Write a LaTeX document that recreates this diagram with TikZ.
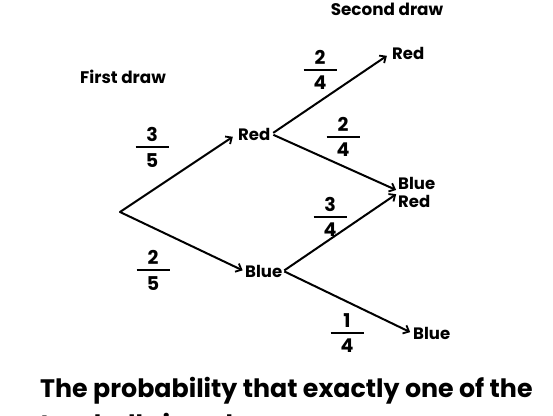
\documentclass[tikz,border=0pt]{standalone}
\usepackage{fontspec}
\setmainfont{Poppins}[BoldFont={Poppins Bold}]
\usetikzlibrary{arrows.meta}
\tikzset{
  lbl/.style={font=\bfseries\fontsize{16.5}{18}\selectfont, inner sep=1pt},
  head/.style={font=\bfseries\fontsize{16.8}{18}\selectfont, inner sep=0pt},
  fr/.style={font=\bfseries\fontsize{19}{19}\selectfont, inner sep=0pt},
  conn/.style={line width=2pt, -{Straight Barb[length=5pt,width=9pt,line width=1.8pt]}},
  qtext/.style={font=\bfseries\fontsize{25.3}{31}\selectfont, anchor=base west, inner sep=0pt},
}
\newcommand{\myfrac}[2]{\vbox{\hbox to 33pt{\hss#1\hss}\kern5pt\hrule height 2pt\kern5pt\hbox to 33pt{\hss#2\hss}}}
\begin{document}
\begin{tikzpicture}[x=1pt,y=-1pt]
\useasboundingbox (0,0) rectangle (553,415);
\fill[white] (0,0) rectangle (553,415);
% headers
\node[head] (h1) at (123,77) {First draw};
\node[head] (h2) at (387,9) {Second draw};
% tree nodes
\coordinate (root) at (120,212);
\node[lbl, anchor=west] (r1) at (237,134) {Red};
\node[lbl, anchor=west] (b1) at (244,271) {Blue};
\node[lbl, anchor=west] (r2) at (391,53) {Red};
\node[lbl, anchor=west] (b2) at (397,183) {Blue};
\node[lbl, anchor=west] (r3) at (397,201) {Red};
\node[lbl, anchor=west] (b3) at (412,333) {Blue};
% connectors
\draw[conn, line cap=round, shorten >=5pt] (root) -- (r1.west);
\draw[conn, line cap=round, shorten >=1.5pt] (root) -- (b1.west);
\draw[conn, shorten <=2pt, shorten >=5pt] (r1.east) -- (r2.west);
\draw[conn, shorten <=2pt, shorten >=1pt] (r1.east) -- (b2.south west);
\draw[conn, shorten <=1pt, shorten >=1pt] (b1.east) -- (r3.north west);
\draw[conn, shorten <=1pt, shorten >=2pt] (b1.east) -- (b3.west);
% fractions
\node[fr] (f1) at (152,147) {\myfrac{3}{5}};
\node[fr] (f2) at (153,270) {\myfrac{2}{5}};
\node[fr] (f3) at (320,70) {\myfrac{2}{4}};
\node[fr] (f4) at (343,137) {\myfrac{2}{4}};
\node[fr] (f5) at (330,217) {\myfrac{3}{4}};
\node[fr] (f6) at (347,333) {\myfrac{1}{4}};
% bottom text
\begin{scope}
\clip (0,0) rectangle (553,415);
\node[qtext] (q1) at (40,397) {The probability that exactly one of the};
\node[qtext] (q2) at (40,433) {two balls is red};
\end{scope}
\end{tikzpicture}
\end{document}
